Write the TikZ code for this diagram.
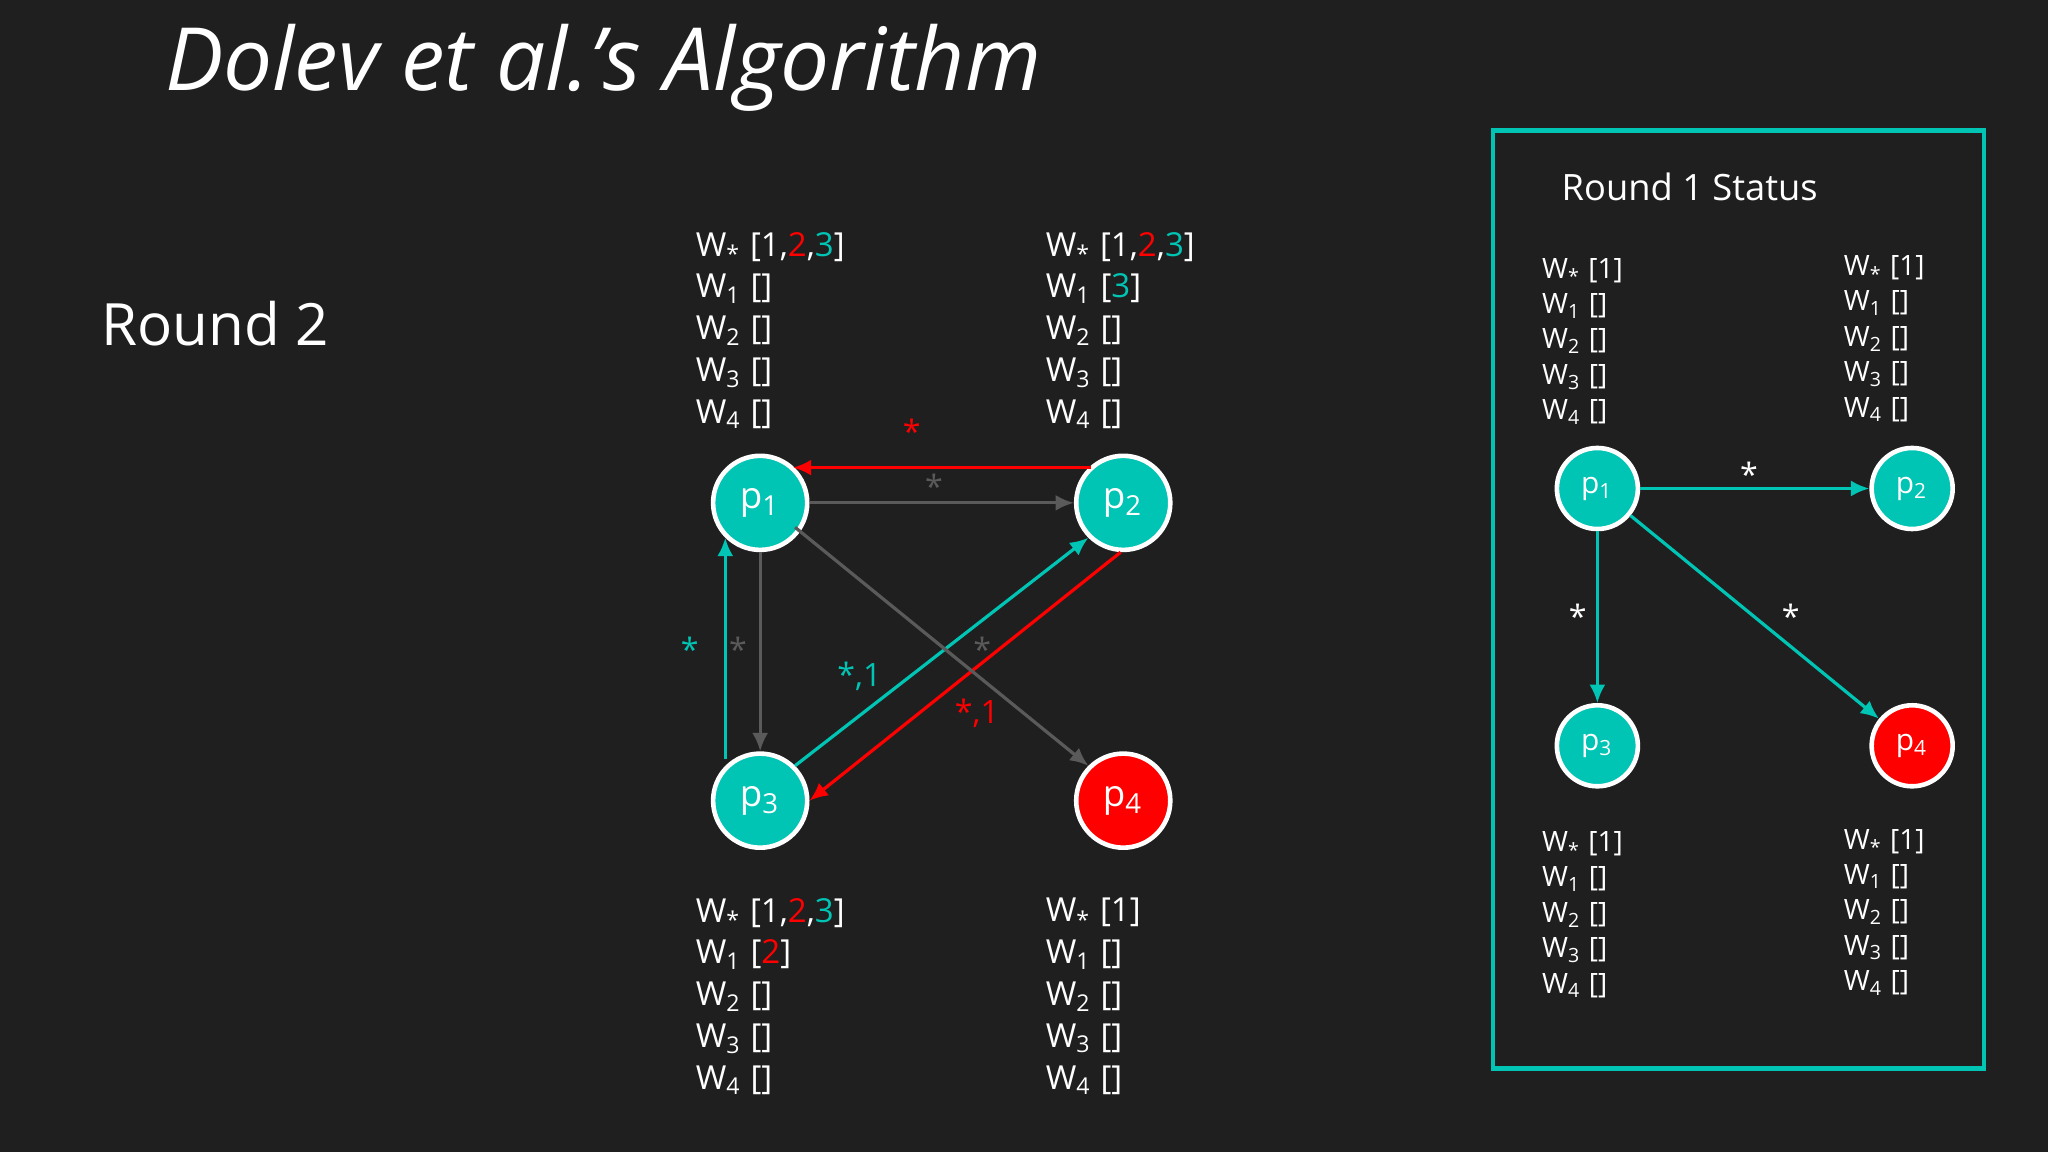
\documentclass[tikz,border=0pt]{standalone}
\usepackage{fontspec}
\setmainfont{Open Sans}
\usetikzlibrary{arrows.meta}
\definecolor{bg}{HTML}{1F1F1F}
\definecolor{tl}{HTML}{00C4B4}
\definecolor{rd}{HTML}{FF0000}
\definecolor{gr}{HTML}{5A5A5A}
\newcommand{\Wsub}[1]{W\textsubscript{#1}}
\begin{document}
\begin{tikzpicture}[x=0.01cm,y=-0.01cm,
  pn/.style={circle,draw=white,line width=1pt,minimum size=0.72cm,inner sep=0pt,text=white,font=\fontsize{8}{10}\selectfont},
  pm/.style={circle,draw=white,line width=1pt,minimum size=0.62cm,inner sep=0pt,text=white,font=\fontsize{6.5}{8}\selectfont},
  lst/.style={text=white,anchor=north west,align=left,inner sep=0pt,font=\fontsize{7.2}{9.1}\selectfont},
  lsm/.style={text=white,anchor=north west,align=left,inner sep=0pt,font=\fontsize{6.1}{7.7}\selectfont},
  ar/.style={-{Latex[length=4pt,width=3.5pt]},line width=0.7pt},
  lb/.style={font=\fontsize{7}{8}\selectfont,inner sep=0pt}]
\fill[bg] (0,0) rectangle (1568,882);
\useasboundingbox (0,0) rectangle (1568,882);
\node[text=white,anchor=west,inner sep=0pt,font=\fontsize{19}{22}\selectfont\itshape] (title) at (126,52) {Dolev et al.’s Algorithm};
\node[text=white,anchor=west,inner sep=0pt,font=\fontsize{12.7}{15}\selectfont] (r2) at (77,248) {Round 2};
% middle graph
\node[pn,fill=tl] (p1) at (582,385) {p\textsubscript{1}};
\node[pn,fill=tl] (p2) at (860,385) {p\textsubscript{2}};
\node[pn,fill=tl] (p3) at (582,613) {p\textsubscript{3}};
\node[pn,fill=rd] (p4) at (860,613) {p\textsubscript{4}};
\coordinate (a1) at (835,358);
\coordinate (a2) at (607,358);
\draw[ar,rd] (a1) -- (a2);
\draw[ar,gr] (p1.east) -- (p2.west);
\draw[ar,gr] (p1.south) -- (p3.north);
\draw[ar,tl] (p3.north west) ++(0,-5) coordinate (b1) -- (b1 |- p1.south west);
\draw[ar,tl] (p3.north east) -- (p2.south west);
\draw[ar,rd] (p2.south) ++(-2,0) coordinate (c1) -- (p3.east);
\draw[ar,gr] (p1.south east) ++(0,-8) coordinate (d1) -- (p4.north west);
\node[lb,text=rd] (l1) at (698,330) {*};
\node[lb,text=gr] (l2) at (715,372) {*};
\node[lb,text=gr] (l3) at (565,497) {*};
\node[lb,text=tl] (l4) at (528,497) {*};
\node[lb,text=gr] (l5) at (752,497) {*};
\node[lb,text=tl] (l6) at (658,518) {*,1};
\node[lb,text=rd] (l7) at (748,546) {*,1};
% lists
\node[lst] (t1) at (532,177) {\Wsub{*} [1,\textcolor{rd}{2},\textcolor{tl}{3}]\\\Wsub{1} []\\\Wsub{2} []\\\Wsub{3} []\\\Wsub{4} []};
\node[lst] (t2) at (800,177) {\Wsub{*} [1,\textcolor{rd}{2},\textcolor{tl}{3}]\\\Wsub{1} [\textcolor{tl}{3}]\\\Wsub{2} []\\\Wsub{3} []\\\Wsub{4} []};
\node[lst] (t3) at (532,687) {\Wsub{*} [1,\textcolor{rd}{2},\textcolor{tl}{3}]\\\Wsub{1} [\textcolor{rd}{2}]\\\Wsub{2} []\\\Wsub{3} []\\\Wsub{4} []};
\node[lst] (t4) at (800,687) {\Wsub{*} [1]\\\Wsub{1} []\\\Wsub{2} []\\\Wsub{3} []\\\Wsub{4} []};
% right box
\draw[tl,line width=1pt] (1143,100) rectangle (1519,818);
\node[text=white,anchor=west,inner sep=0pt,font=\fontsize{7.9}{10}\selectfont] (rs) at (1195,143) {Round 1 Status};
\node[pm,fill=tl] (q1) at (1223,374) {p\textsubscript{1}};
\node[pm,fill=tl] (q2) at (1464,374) {p\textsubscript{2}};
\node[pm,fill=tl] (q3) at (1223,571) {p\textsubscript{3}};
\node[pm,fill=rd] (q4) at (1464,571) {p\textsubscript{4}};
\draw[ar,tl] (q1) -- (q2);
\draw[ar,tl] (q1) -- (q3);
\draw[ar,tl] (q1) -- (q4);
\node[lb,text=white] (m1) at (1339,363) {*};
\node[lb,text=white] (m2) at (1208,472) {*};
\node[lb,text=white] (m3) at (1371,472) {*};
\node[lsm] (s1) at (1180,197) {\Wsub{*} [1]\\\Wsub{1} []\\\Wsub{2} []\\\Wsub{3} []\\\Wsub{4} []};
\node[lsm] (s2) at (1411,195) {\Wsub{*} [1]\\\Wsub{1} []\\\Wsub{2} []\\\Wsub{3} []\\\Wsub{4} []};
\node[lsm] (s3) at (1180,636) {\Wsub{*} [1]\\\Wsub{1} []\\\Wsub{2} []\\\Wsub{3} []\\\Wsub{4} []};
\node[lsm] (s4) at (1411,634) {\Wsub{*} [1]\\\Wsub{1} []\\\Wsub{2} []\\\Wsub{3} []\\\Wsub{4} []};
\end{tikzpicture}
\end{document}
